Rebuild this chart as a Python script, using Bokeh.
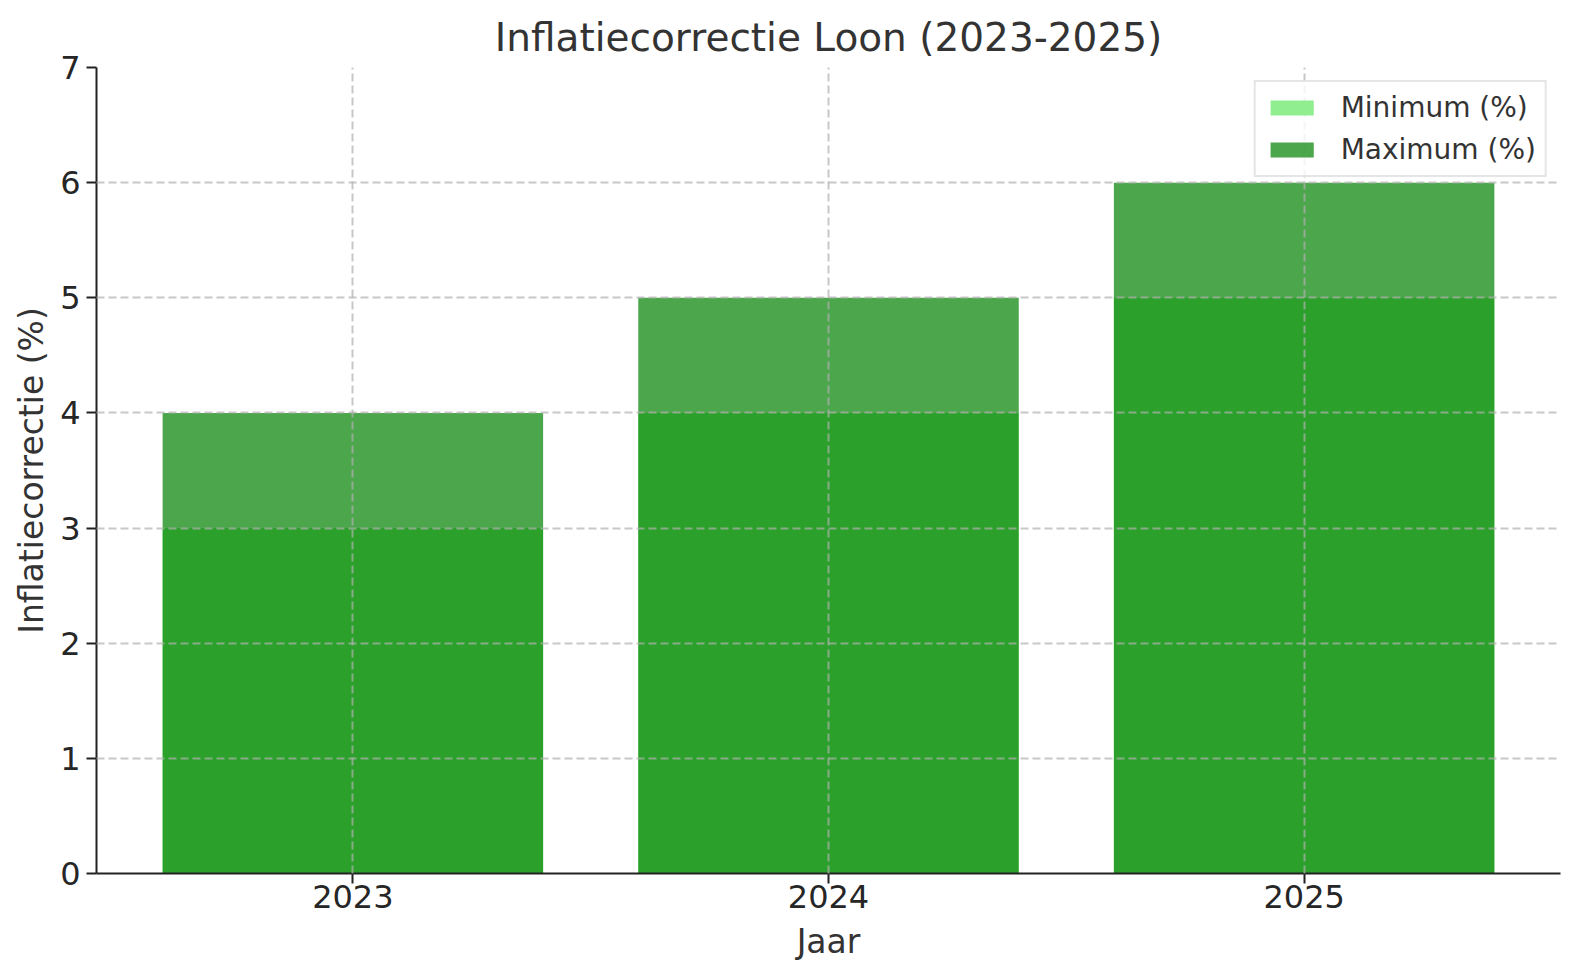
from bokeh.plotting import figure
from bokeh.resources import INLINE
from bokeh.embed import file_html
from bokeh.models import FactorRange, Range1d, FixedTicker, Legend, LegendItem

# data
years = ["2023", "2024", "2025"]
minimum = [3, 4, 5]
maximum = [4, 5, 6]
y_ticks = [0, 1, 2, 3, 4, 5, 6, 7]

FONT = "DejaVu Sans"
TEXT = "#262626"

p = figure(
    x_range=FactorRange(factors=years, range_padding=0.039, range_padding_units="absolute"),
    y_range=Range1d(0, 7),
    width=1564, height=964,
    min_border_left=96, min_border_right=4, min_border_top=67, min_border_bottom=91,
    output_backend="svg", toolbar_location=None, tools="",
    title="Inflatiecorrectie Loon (2023-2025)",
)

r_min = p.vbar(x=years, top=minimum, width=0.8, fill_color="#90EE90", line_color=None)
r_max = p.vbar(x=years, top=maximum, width=0.8, fill_color="green", fill_alpha=0.7, line_color=None)

# title
p.title.text_font = FONT
p.title.text_font_size = "39px"
p.title.text_font_style = "normal"
p.title.text_color = "#333333"
p.title.align = "center"
p.title.offset = 0
p.title.standoff = 15

p.outline_line_color = None

# axes
for ax in (p.xaxis[0], p.yaxis[0]):
    ax.axis_line_color = "#222222"
    ax.axis_line_width = 2
    ax.major_tick_line_color = "#222222"
    ax.major_tick_line_width = 2
    ax.major_tick_in = 0
    ax.major_tick_out = 10
    ax.minor_tick_line_color = None
    ax.major_label_text_font = FONT
    ax.major_label_text_font_size = "32px"
    ax.major_label_text_color = TEXT
    ax.axis_label_text_font = FONT
    ax.axis_label_text_font_size = "33px"
    ax.axis_label_text_font_style = "normal"
    ax.axis_label_text_color = "#333333"

p.xaxis.axis_label = "Jaar"
p.yaxis.axis_label = "Inflatiecorrectie (%)"
p.yaxis.ticker = FixedTicker(ticks=y_ticks)
p.xaxis.major_label_standoff = 1
p.yaxis.major_label_standoff = 6
p.xaxis.axis_label_standoff = 11
p.yaxis.axis_label_standoff = 6

# grid on top of bars, dashed
for g in (p.xgrid[0], p.ygrid[0]):
    g.level = "overlay"
    g.grid_line_color = "#b0b0b0"
    g.grid_line_alpha = 0.7
    g.grid_line_width = 2
    g.grid_line_dash = "8 4"
p.ygrid.ticker = FixedTicker(ticks=y_ticks)

legend = Legend(
    items=[LegendItem(label="Minimum (%)", renderers=[r_min]),
           LegendItem(label="Maximum (%)", renderers=[r_max])],
    location="top_right",
)
legend.margin = 13
legend.padding = 9
legend.spacing = 9
legend.glyph_width = 54
legend.glyph_height = 19
legend.label_height = 32
legend.label_standoff = 22
legend.label_text_font = FONT
legend.label_text_font_size = "28px"
legend.label_text_color = "#333333"
legend.border_line_color = "#cccccc"
legend.border_line_width = 2
legend.background_fill_alpha = 0.8
p.add_layout(legend, "center")

open("out.html", "w").write(file_html(p, INLINE, "Inflatiecorrectie Loon"))
